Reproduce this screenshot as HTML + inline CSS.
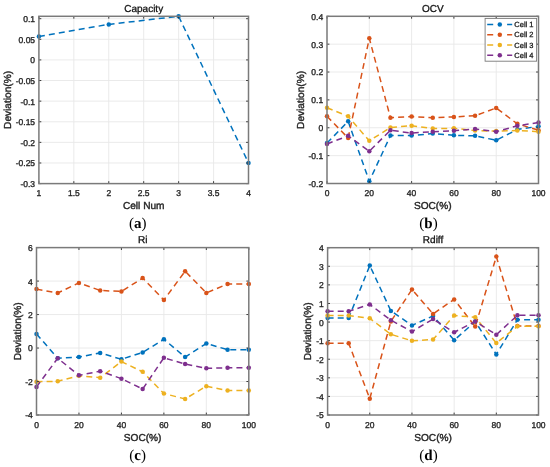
<!DOCTYPE html>
<html><head><meta charset="utf-8"><title>Figure</title>
<style>
html,body{margin:0;padding:0;background:#fff;}
body{width:550px;height:467px;overflow:hidden;}
svg{display:block;will-change:transform;}
text{font-family:"Liberation Sans", sans-serif;fill:#262626;text-rendering:geometricPrecision;}
.tk{font-size:8.5px;stroke:#262626;stroke-width:0.35px;}
.lb{font-size:10.15px;stroke:#262626;stroke-width:0.4px;}
.tt{font-size:10px;fill:#111;stroke:#111;stroke-width:0.3px;}
.tg{font-family:"Liberation Serif", serif;font-size:15px;fill:#000;}
.tg tspan{font-weight:bold;}
.lg{font-size:7.5px;fill:#111;stroke:#111;stroke-width:0.25px;}
</style></head><body>
<svg width="550" height="467" viewBox="0 0 550 467">
<rect x="0" y="0" width="550" height="467" fill="#fff"/>
<path d="M73.83 16.3V183.6M108.77 16.3V183.6M143.7 16.3V183.6M178.63 16.3V183.6M213.57 16.3V183.6M38.9 162.99H248.5M38.9 142.37H248.5M38.9 121.76H248.5M38.9 101.15H248.5M38.9 80.53H248.5M38.9 59.92H248.5M38.9 39.3H248.5M38.9 18.69H248.5" stroke="#e8e8e8" stroke-width="0.9" fill="none"/>
<polyline points="38.9,36.42 108.77,24.38 178.63,16.3 248.5,162.99" fill="none" stroke="#0072BD" stroke-width="1.5" stroke-dasharray="6 4.1"/>
<circle cx="38.9" cy="36.42" r="2.25" fill="#0072BD"/><circle cx="108.77" cy="24.38" r="2.25" fill="#0072BD"/><circle cx="178.63" cy="16.3" r="2.25" fill="#0072BD"/><circle cx="248.5" cy="162.99" r="2.25" fill="#0072BD"/>
<path d="M38.9 183.6v-2.4M38.9 16.3v2.4M73.83 183.6v-2.4M73.83 16.3v2.4M108.77 183.6v-2.4M108.77 16.3v2.4M143.7 183.6v-2.4M143.7 16.3v2.4M178.63 183.6v-2.4M178.63 16.3v2.4M213.57 183.6v-2.4M213.57 16.3v2.4M248.5 183.6v-2.4M248.5 16.3v2.4M38.9 183.6h2.4M248.5 183.6h-2.4M38.9 162.99h2.4M248.5 162.99h-2.4M38.9 142.37h2.4M248.5 142.37h-2.4M38.9 121.76h2.4M248.5 121.76h-2.4M38.9 101.15h2.4M248.5 101.15h-2.4M38.9 80.53h2.4M248.5 80.53h-2.4M38.9 59.92h2.4M248.5 59.92h-2.4M38.9 39.3h2.4M248.5 39.3h-2.4M38.9 18.69h2.4M248.5 18.69h-2.4" stroke="#262626" stroke-width="0.9" fill="none"/>
<rect x="38.9" y="16.3" width="209.6" height="167.3" fill="none" stroke="#7a7a7a" stroke-width="1.5"/>
<text class="tk" x="38.9" y="196.2" text-anchor="middle">1</text><text class="tk" x="73.83" y="196.2" text-anchor="middle">1.5</text><text class="tk" x="108.77" y="196.2" text-anchor="middle">2</text><text class="tk" x="143.7" y="196.2" text-anchor="middle">2.5</text><text class="tk" x="178.63" y="196.2" text-anchor="middle">3</text><text class="tk" x="213.57" y="196.2" text-anchor="middle">3.5</text><text class="tk" x="248.5" y="196.2" text-anchor="middle">4</text>
<text class="tk" x="35.1" y="187.05" text-anchor="end">-0.3</text><text class="tk" x="35.1" y="166.44" text-anchor="end">-0.25</text><text class="tk" x="35.1" y="145.82" text-anchor="end">-0.2</text><text class="tk" x="35.1" y="125.21" text-anchor="end">-0.15</text><text class="tk" x="35.1" y="104.6" text-anchor="end">-0.1</text><text class="tk" x="35.1" y="83.98" text-anchor="end">-0.05</text><text class="tk" x="35.1" y="63.37" text-anchor="end">0</text><text class="tk" x="35.1" y="42.75" text-anchor="end">0.05</text><text class="tk" x="35.1" y="22.14" text-anchor="end">0.1</text>
<text class="tt" x="143.7" y="11.8" text-anchor="middle">Capacity</text>
<text class="lb" x="143.7" y="209.2" text-anchor="middle">Cell Num</text>
<text class="lb" x="0" y="0" text-anchor="middle" transform="translate(11.3 99.95) rotate(-90)">Deviation(%)</text>
<text class="tg" x="137.8" y="228" text-anchor="middle">(<tspan>a</tspan>)</text>
<path d="M369.3 16.3V183.5M411.6 16.3V183.5M453.9 16.3V183.5M496.2 16.3V183.5M327 155.63H538.5M327 127.77H538.5M327 99.9H538.5M327 72.03H538.5M327 44.17H538.5" stroke="#e8e8e8" stroke-width="0.9" fill="none"/>
<polyline points="327,143.09 348.15,121.36 369.3,181.27 390.45,135.57 411.6,135.57 432.75,133.62 453.9,135.29 475.05,135.85 496.2,140.31 517.35,129.44 538.5,126.37" fill="none" stroke="#0072BD" stroke-width="1.5" stroke-dasharray="6 4.1"/>
<circle cx="327" cy="143.09" r="2.25" fill="#0072BD"/><circle cx="348.15" cy="121.36" r="2.25" fill="#0072BD"/><circle cx="369.3" cy="181.27" r="2.25" fill="#0072BD"/><circle cx="390.45" cy="135.57" r="2.25" fill="#0072BD"/><circle cx="411.6" cy="135.57" r="2.25" fill="#0072BD"/><circle cx="432.75" cy="133.62" r="2.25" fill="#0072BD"/><circle cx="453.9" cy="135.29" r="2.25" fill="#0072BD"/><circle cx="475.05" cy="135.85" r="2.25" fill="#0072BD"/><circle cx="496.2" cy="140.31" r="2.25" fill="#0072BD"/><circle cx="517.35" cy="129.44" r="2.25" fill="#0072BD"/><circle cx="538.5" cy="126.37" r="2.25" fill="#0072BD"/>
<polyline points="327,116.34 348.15,138.08 369.3,38.31 390.45,117.73 411.6,116.62 432.75,117.73 453.9,116.9 475.05,115.78 496.2,107.98 517.35,123.87 538.5,130.27" fill="none" stroke="#D95319" stroke-width="1.5" stroke-dasharray="6 4.1"/>
<circle cx="327" cy="116.34" r="2.25" fill="#D95319"/><circle cx="348.15" cy="138.08" r="2.25" fill="#D95319"/><circle cx="369.3" cy="38.31" r="2.25" fill="#D95319"/><circle cx="390.45" cy="117.73" r="2.25" fill="#D95319"/><circle cx="411.6" cy="116.62" r="2.25" fill="#D95319"/><circle cx="432.75" cy="117.73" r="2.25" fill="#D95319"/><circle cx="453.9" cy="116.9" r="2.25" fill="#D95319"/><circle cx="475.05" cy="115.78" r="2.25" fill="#D95319"/><circle cx="496.2" cy="107.98" r="2.25" fill="#D95319"/><circle cx="517.35" cy="123.87" r="2.25" fill="#D95319"/><circle cx="538.5" cy="130.27" r="2.25" fill="#D95319"/>
<polyline points="327,107.7 348.15,116.34 369.3,140.86 390.45,127.49 411.6,125.68 432.75,128.6 453.9,128.32 475.05,130.55 496.2,131.11 517.35,130.55 538.5,131.67" fill="none" stroke="#EDB120" stroke-width="1.5" stroke-dasharray="6 4.1"/>
<circle cx="327" cy="107.7" r="2.25" fill="#EDB120"/><circle cx="348.15" cy="116.34" r="2.25" fill="#EDB120"/><circle cx="369.3" cy="140.86" r="2.25" fill="#EDB120"/><circle cx="390.45" cy="127.49" r="2.25" fill="#EDB120"/><circle cx="411.6" cy="125.68" r="2.25" fill="#EDB120"/><circle cx="432.75" cy="128.6" r="2.25" fill="#EDB120"/><circle cx="453.9" cy="128.32" r="2.25" fill="#EDB120"/><circle cx="475.05" cy="130.55" r="2.25" fill="#EDB120"/><circle cx="496.2" cy="131.11" r="2.25" fill="#EDB120"/><circle cx="517.35" cy="130.55" r="2.25" fill="#EDB120"/><circle cx="538.5" cy="131.67" r="2.25" fill="#EDB120"/>
<polyline points="327,143.93 348.15,135.85 369.3,151.17 390.45,130.27 411.6,133.06 432.75,131.67 453.9,130.83 475.05,128.88 496.2,131.67 517.35,125.82 538.5,122.47" fill="none" stroke="#7E2F8E" stroke-width="1.5" stroke-dasharray="6 4.1"/>
<circle cx="327" cy="143.93" r="2.25" fill="#7E2F8E"/><circle cx="348.15" cy="135.85" r="2.25" fill="#7E2F8E"/><circle cx="369.3" cy="151.17" r="2.25" fill="#7E2F8E"/><circle cx="390.45" cy="130.27" r="2.25" fill="#7E2F8E"/><circle cx="411.6" cy="133.06" r="2.25" fill="#7E2F8E"/><circle cx="432.75" cy="131.67" r="2.25" fill="#7E2F8E"/><circle cx="453.9" cy="130.83" r="2.25" fill="#7E2F8E"/><circle cx="475.05" cy="128.88" r="2.25" fill="#7E2F8E"/><circle cx="496.2" cy="131.67" r="2.25" fill="#7E2F8E"/><circle cx="517.35" cy="125.82" r="2.25" fill="#7E2F8E"/><circle cx="538.5" cy="122.47" r="2.25" fill="#7E2F8E"/>
<path d="M327 183.5v-2.4M327 16.3v2.4M369.3 183.5v-2.4M369.3 16.3v2.4M411.6 183.5v-2.4M411.6 16.3v2.4M453.9 183.5v-2.4M453.9 16.3v2.4M496.2 183.5v-2.4M496.2 16.3v2.4M538.5 183.5v-2.4M538.5 16.3v2.4M327 183.5h2.4M538.5 183.5h-2.4M327 155.63h2.4M538.5 155.63h-2.4M327 127.77h2.4M538.5 127.77h-2.4M327 99.9h2.4M538.5 99.9h-2.4M327 72.03h2.4M538.5 72.03h-2.4M327 44.17h2.4M538.5 44.17h-2.4M327 16.3h2.4M538.5 16.3h-2.4" stroke="#262626" stroke-width="0.9" fill="none"/>
<rect x="327" y="16.3" width="211.5" height="167.2" fill="none" stroke="#7a7a7a" stroke-width="1.5"/>
<text class="tk" x="327" y="196.1" text-anchor="middle">0</text><text class="tk" x="369.3" y="196.1" text-anchor="middle">20</text><text class="tk" x="411.6" y="196.1" text-anchor="middle">40</text><text class="tk" x="453.9" y="196.1" text-anchor="middle">60</text><text class="tk" x="496.2" y="196.1" text-anchor="middle">80</text><text class="tk" x="538.5" y="196.1" text-anchor="middle">100</text>
<text class="tk" x="323.2" y="186.95" text-anchor="end">-0.2</text><text class="tk" x="323.2" y="159.08" text-anchor="end">-0.1</text><text class="tk" x="323.2" y="131.22" text-anchor="end">0</text><text class="tk" x="323.2" y="103.35" text-anchor="end">0.1</text><text class="tk" x="323.2" y="75.48" text-anchor="end">0.2</text><text class="tk" x="323.2" y="47.62" text-anchor="end">0.3</text><text class="tk" x="323.2" y="19.75" text-anchor="end">0.4</text>
<text class="tt" x="432.75" y="11.8" text-anchor="middle">OCV</text>
<text class="lb" x="432.75" y="209.1" text-anchor="middle">SOC(%)</text>
<text class="lb" x="0" y="0" text-anchor="middle" transform="translate(304.2 99.9) rotate(-90)">Deviation(%)</text>
<text class="tg" x="428.5" y="228" text-anchor="middle">(<tspan>b</tspan>)</text>
<rect x="485.1" y="18.4" width="51.5" height="42.8" fill="#fff" stroke="#7a7a7a" stroke-width="0.9"/>
<path d="M487.2 24.5h6M507.1 24.5h5.1" stroke="#0072BD" stroke-width="1.5"/><circle cx="499.8" cy="24.5" r="2.25" fill="#0072BD"/><text class="lg" x="514.3" y="27.1">Cell 1</text>
<path d="M487.2 34.7h6M507.1 34.7h5.1" stroke="#D95319" stroke-width="1.5"/><circle cx="499.8" cy="34.7" r="2.25" fill="#D95319"/><text class="lg" x="514.3" y="37.3">Cell 2</text>
<path d="M487.2 44.9h6M507.1 44.9h5.1" stroke="#EDB120" stroke-width="1.5"/><circle cx="499.8" cy="44.9" r="2.25" fill="#EDB120"/><text class="lg" x="514.3" y="47.5">Cell 3</text>
<path d="M487.2 55.2h6M507.1 55.2h5.1" stroke="#7E2F8E" stroke-width="1.5"/><circle cx="499.8" cy="55.2" r="2.25" fill="#7E2F8E"/><text class="lg" x="514.3" y="57.8">Cell 4</text>
<path d="M78.96 247.6V415M121.42 247.6V415M163.88 247.6V415M206.34 247.6V415M36.5 381.52H248.8M36.5 348.04H248.8M36.5 314.56H248.8M36.5 281.08H248.8" stroke="#e8e8e8" stroke-width="0.9" fill="none"/>
<polyline points="36.5,333.98 57.73,358.25 78.96,357.08 100.19,352.89 121.42,359.26 142.65,352.39 163.88,339.34 185.11,357.08 206.34,343.52 227.57,349.71 248.8,349.71" fill="none" stroke="#0072BD" stroke-width="1.5" stroke-dasharray="6 4.1"/>
<circle cx="36.5" cy="333.98" r="2.25" fill="#0072BD"/><circle cx="57.73" cy="358.25" r="2.25" fill="#0072BD"/><circle cx="78.96" cy="357.08" r="2.25" fill="#0072BD"/><circle cx="100.19" cy="352.89" r="2.25" fill="#0072BD"/><circle cx="121.42" cy="359.26" r="2.25" fill="#0072BD"/><circle cx="142.65" cy="352.39" r="2.25" fill="#0072BD"/><circle cx="163.88" cy="339.34" r="2.25" fill="#0072BD"/><circle cx="185.11" cy="357.08" r="2.25" fill="#0072BD"/><circle cx="206.34" cy="343.52" r="2.25" fill="#0072BD"/><circle cx="227.57" cy="349.71" r="2.25" fill="#0072BD"/><circle cx="248.8" cy="349.71" r="2.25" fill="#0072BD"/>
<polyline points="36.5,289.12 57.73,292.97 78.96,282.92 100.19,290.45 121.42,291.46 142.65,278.07 163.88,300 185.11,271.2 206.34,292.97 227.57,283.93 248.8,283.93" fill="none" stroke="#D95319" stroke-width="1.5" stroke-dasharray="6 4.1"/>
<circle cx="36.5" cy="289.12" r="2.25" fill="#D95319"/><circle cx="57.73" cy="292.97" r="2.25" fill="#D95319"/><circle cx="78.96" cy="282.92" r="2.25" fill="#D95319"/><circle cx="100.19" cy="290.45" r="2.25" fill="#D95319"/><circle cx="121.42" cy="291.46" r="2.25" fill="#D95319"/><circle cx="142.65" cy="278.07" r="2.25" fill="#D95319"/><circle cx="163.88" cy="300" r="2.25" fill="#D95319"/><circle cx="185.11" cy="271.2" r="2.25" fill="#D95319"/><circle cx="206.34" cy="292.97" r="2.25" fill="#D95319"/><circle cx="227.57" cy="283.93" r="2.25" fill="#D95319"/><circle cx="248.8" cy="283.93" r="2.25" fill="#D95319"/>
<polyline points="36.5,381.69 57.73,381.35 78.96,375.83 100.19,377.67 121.42,361.6 142.65,371.81 163.88,393.57 185.11,398.93 206.34,386.21 227.57,390.56 248.8,390.56" fill="none" stroke="#EDB120" stroke-width="1.5" stroke-dasharray="6 4.1"/>
<circle cx="36.5" cy="381.69" r="2.25" fill="#EDB120"/><circle cx="57.73" cy="381.35" r="2.25" fill="#EDB120"/><circle cx="78.96" cy="375.83" r="2.25" fill="#EDB120"/><circle cx="100.19" cy="377.67" r="2.25" fill="#EDB120"/><circle cx="121.42" cy="361.6" r="2.25" fill="#EDB120"/><circle cx="142.65" cy="371.81" r="2.25" fill="#EDB120"/><circle cx="163.88" cy="393.57" r="2.25" fill="#EDB120"/><circle cx="185.11" cy="398.93" r="2.25" fill="#EDB120"/><circle cx="206.34" cy="386.21" r="2.25" fill="#EDB120"/><circle cx="227.57" cy="390.56" r="2.25" fill="#EDB120"/><circle cx="248.8" cy="390.56" r="2.25" fill="#EDB120"/>
<polyline points="36.5,386.88 57.73,358.25 78.96,375.33 100.19,371.14 121.42,378.67 142.65,389.05 163.88,357.75 185.11,364.11 206.34,368.3 227.57,367.79 248.8,367.79" fill="none" stroke="#7E2F8E" stroke-width="1.5" stroke-dasharray="6 4.1"/>
<circle cx="36.5" cy="386.88" r="2.25" fill="#7E2F8E"/><circle cx="57.73" cy="358.25" r="2.25" fill="#7E2F8E"/><circle cx="78.96" cy="375.33" r="2.25" fill="#7E2F8E"/><circle cx="100.19" cy="371.14" r="2.25" fill="#7E2F8E"/><circle cx="121.42" cy="378.67" r="2.25" fill="#7E2F8E"/><circle cx="142.65" cy="389.05" r="2.25" fill="#7E2F8E"/><circle cx="163.88" cy="357.75" r="2.25" fill="#7E2F8E"/><circle cx="185.11" cy="364.11" r="2.25" fill="#7E2F8E"/><circle cx="206.34" cy="368.3" r="2.25" fill="#7E2F8E"/><circle cx="227.57" cy="367.79" r="2.25" fill="#7E2F8E"/><circle cx="248.8" cy="367.79" r="2.25" fill="#7E2F8E"/>
<path d="M36.5 415v-2.4M36.5 247.6v2.4M78.96 415v-2.4M78.96 247.6v2.4M121.42 415v-2.4M121.42 247.6v2.4M163.88 415v-2.4M163.88 247.6v2.4M206.34 415v-2.4M206.34 247.6v2.4M248.8 415v-2.4M248.8 247.6v2.4M36.5 415h2.4M248.8 415h-2.4M36.5 381.52h2.4M248.8 381.52h-2.4M36.5 348.04h2.4M248.8 348.04h-2.4M36.5 314.56h2.4M248.8 314.56h-2.4M36.5 281.08h2.4M248.8 281.08h-2.4M36.5 247.6h2.4M248.8 247.6h-2.4" stroke="#262626" stroke-width="0.9" fill="none"/>
<rect x="36.5" y="247.6" width="212.3" height="167.4" fill="none" stroke="#7a7a7a" stroke-width="1.5"/>
<text class="tk" x="36.5" y="427.6" text-anchor="middle">0</text><text class="tk" x="78.96" y="427.6" text-anchor="middle">20</text><text class="tk" x="121.42" y="427.6" text-anchor="middle">40</text><text class="tk" x="163.88" y="427.6" text-anchor="middle">60</text><text class="tk" x="206.34" y="427.6" text-anchor="middle">80</text><text class="tk" x="248.8" y="427.6" text-anchor="middle">100</text>
<text class="tk" x="32.7" y="418.45" text-anchor="end">-4</text><text class="tk" x="32.7" y="384.97" text-anchor="end">-2</text><text class="tk" x="32.7" y="351.49" text-anchor="end">0</text><text class="tk" x="32.7" y="318.01" text-anchor="end">2</text><text class="tk" x="32.7" y="284.53" text-anchor="end">4</text><text class="tk" x="32.7" y="251.05" text-anchor="end">6</text>
<text class="tt" x="142.65" y="243.1" text-anchor="middle">Ri</text>
<text class="lb" x="142.65" y="440.6" text-anchor="middle">SOC(%)</text>
<text class="lb" x="0" y="0" text-anchor="middle" transform="translate(20.8 331.3) rotate(-90)">Deviation(%)</text>
<text class="tg" x="137.7" y="459.6" text-anchor="middle">(<tspan>c</tspan>)</text>
<path d="M369.78 247.7V415M411.96 247.7V415M454.14 247.7V415M496.32 247.7V415M327.6 396.41H538.5M327.6 377.82H538.5M327.6 359.23H538.5M327.6 340.64H538.5M327.6 322.06H538.5M327.6 303.47H538.5M327.6 284.88H538.5M327.6 266.29H538.5" stroke="#e8e8e8" stroke-width="0.9" fill="none"/>
<polyline points="327.6,317.97 348.69,317.97 369.78,265.55 390.87,310.9 411.96,325.4 433.05,315.92 454.14,340.27 475.23,321.5 496.32,354.4 517.41,319.64 538.5,319.64" fill="none" stroke="#0072BD" stroke-width="1.5" stroke-dasharray="6 4.1"/>
<circle cx="327.6" cy="317.97" r="2.25" fill="#0072BD"/><circle cx="348.69" cy="317.97" r="2.25" fill="#0072BD"/><circle cx="369.78" cy="265.55" r="2.25" fill="#0072BD"/><circle cx="390.87" cy="310.9" r="2.25" fill="#0072BD"/><circle cx="411.96" cy="325.4" r="2.25" fill="#0072BD"/><circle cx="433.05" cy="315.92" r="2.25" fill="#0072BD"/><circle cx="454.14" cy="340.27" r="2.25" fill="#0072BD"/><circle cx="475.23" cy="321.5" r="2.25" fill="#0072BD"/><circle cx="496.32" cy="354.4" r="2.25" fill="#0072BD"/><circle cx="517.41" cy="319.64" r="2.25" fill="#0072BD"/><circle cx="538.5" cy="319.64" r="2.25" fill="#0072BD"/>
<polyline points="327.6,343.25 348.69,343.25 369.78,398.64 390.87,321.5 411.96,289.52 433.05,313.88 454.14,299.38 475.23,326.52 496.32,256.62 517.41,325.96 538.5,325.96" fill="none" stroke="#D95319" stroke-width="1.5" stroke-dasharray="6 4.1"/>
<circle cx="327.6" cy="343.25" r="2.25" fill="#D95319"/><circle cx="348.69" cy="343.25" r="2.25" fill="#D95319"/><circle cx="369.78" cy="398.64" r="2.25" fill="#D95319"/><circle cx="390.87" cy="321.5" r="2.25" fill="#D95319"/><circle cx="411.96" cy="289.52" r="2.25" fill="#D95319"/><circle cx="433.05" cy="313.88" r="2.25" fill="#D95319"/><circle cx="454.14" cy="299.38" r="2.25" fill="#D95319"/><circle cx="475.23" cy="326.52" r="2.25" fill="#D95319"/><circle cx="496.32" cy="256.62" r="2.25" fill="#D95319"/><circle cx="517.41" cy="325.96" r="2.25" fill="#D95319"/><circle cx="538.5" cy="325.96" r="2.25" fill="#D95319"/>
<polyline points="327.6,315.55 348.69,315.55 369.78,318.34 390.87,334.32 411.96,340.83 433.05,339.53 454.14,315.55 475.23,317.22 496.32,343.06 517.41,326.33 538.5,326.33" fill="none" stroke="#EDB120" stroke-width="1.5" stroke-dasharray="6 4.1"/>
<circle cx="327.6" cy="315.55" r="2.25" fill="#EDB120"/><circle cx="348.69" cy="315.55" r="2.25" fill="#EDB120"/><circle cx="369.78" cy="318.34" r="2.25" fill="#EDB120"/><circle cx="390.87" cy="334.32" r="2.25" fill="#EDB120"/><circle cx="411.96" cy="340.83" r="2.25" fill="#EDB120"/><circle cx="433.05" cy="339.53" r="2.25" fill="#EDB120"/><circle cx="454.14" cy="315.55" r="2.25" fill="#EDB120"/><circle cx="475.23" cy="317.22" r="2.25" fill="#EDB120"/><circle cx="496.32" cy="343.06" r="2.25" fill="#EDB120"/><circle cx="517.41" cy="326.33" r="2.25" fill="#EDB120"/><circle cx="538.5" cy="326.33" r="2.25" fill="#EDB120"/>
<polyline points="327.6,311.27 348.69,311.27 369.78,304.4 390.87,320.2 411.96,331.54 433.05,319.08 454.14,332.28 475.23,321.5 496.32,334.7 517.41,315.36 538.5,315.36" fill="none" stroke="#7E2F8E" stroke-width="1.5" stroke-dasharray="6 4.1"/>
<circle cx="327.6" cy="311.27" r="2.25" fill="#7E2F8E"/><circle cx="348.69" cy="311.27" r="2.25" fill="#7E2F8E"/><circle cx="369.78" cy="304.4" r="2.25" fill="#7E2F8E"/><circle cx="390.87" cy="320.2" r="2.25" fill="#7E2F8E"/><circle cx="411.96" cy="331.54" r="2.25" fill="#7E2F8E"/><circle cx="433.05" cy="319.08" r="2.25" fill="#7E2F8E"/><circle cx="454.14" cy="332.28" r="2.25" fill="#7E2F8E"/><circle cx="475.23" cy="321.5" r="2.25" fill="#7E2F8E"/><circle cx="496.32" cy="334.7" r="2.25" fill="#7E2F8E"/><circle cx="517.41" cy="315.36" r="2.25" fill="#7E2F8E"/><circle cx="538.5" cy="315.36" r="2.25" fill="#7E2F8E"/>
<path d="M327.6 415v-2.4M327.6 247.7v2.4M369.78 415v-2.4M369.78 247.7v2.4M411.96 415v-2.4M411.96 247.7v2.4M454.14 415v-2.4M454.14 247.7v2.4M496.32 415v-2.4M496.32 247.7v2.4M538.5 415v-2.4M538.5 247.7v2.4M327.6 415h2.4M538.5 415h-2.4M327.6 396.41h2.4M538.5 396.41h-2.4M327.6 377.82h2.4M538.5 377.82h-2.4M327.6 359.23h2.4M538.5 359.23h-2.4M327.6 340.64h2.4M538.5 340.64h-2.4M327.6 322.06h2.4M538.5 322.06h-2.4M327.6 303.47h2.4M538.5 303.47h-2.4M327.6 284.88h2.4M538.5 284.88h-2.4M327.6 266.29h2.4M538.5 266.29h-2.4M327.6 247.7h2.4M538.5 247.7h-2.4" stroke="#262626" stroke-width="0.9" fill="none"/>
<rect x="327.6" y="247.7" width="210.9" height="167.3" fill="none" stroke="#7a7a7a" stroke-width="1.5"/>
<text class="tk" x="327.6" y="427.6" text-anchor="middle">0</text><text class="tk" x="369.78" y="427.6" text-anchor="middle">20</text><text class="tk" x="411.96" y="427.6" text-anchor="middle">40</text><text class="tk" x="454.14" y="427.6" text-anchor="middle">60</text><text class="tk" x="496.32" y="427.6" text-anchor="middle">80</text><text class="tk" x="538.5" y="427.6" text-anchor="middle">100</text>
<text class="tk" x="323.8" y="418.45" text-anchor="end">-5</text><text class="tk" x="323.8" y="399.86" text-anchor="end">-4</text><text class="tk" x="323.8" y="381.27" text-anchor="end">-3</text><text class="tk" x="323.8" y="362.68" text-anchor="end">-2</text><text class="tk" x="323.8" y="344.09" text-anchor="end">-1</text><text class="tk" x="323.8" y="325.51" text-anchor="end">0</text><text class="tk" x="323.8" y="306.92" text-anchor="end">1</text><text class="tk" x="323.8" y="288.33" text-anchor="end">2</text><text class="tk" x="323.8" y="269.74" text-anchor="end">3</text><text class="tk" x="323.8" y="251.15" text-anchor="end">4</text>
<text class="tt" x="433.05" y="243.2" text-anchor="middle">Rdiff</text>
<text class="lb" x="433.05" y="440.6" text-anchor="middle">SOC(%)</text>
<text class="lb" x="0" y="0" text-anchor="middle" transform="translate(310.8 331.35) rotate(-90)">Deviation(%)</text>
<text class="tg" x="428.5" y="459.6" text-anchor="middle">(<tspan>d</tspan>)</text>
</svg>
</body></html>
